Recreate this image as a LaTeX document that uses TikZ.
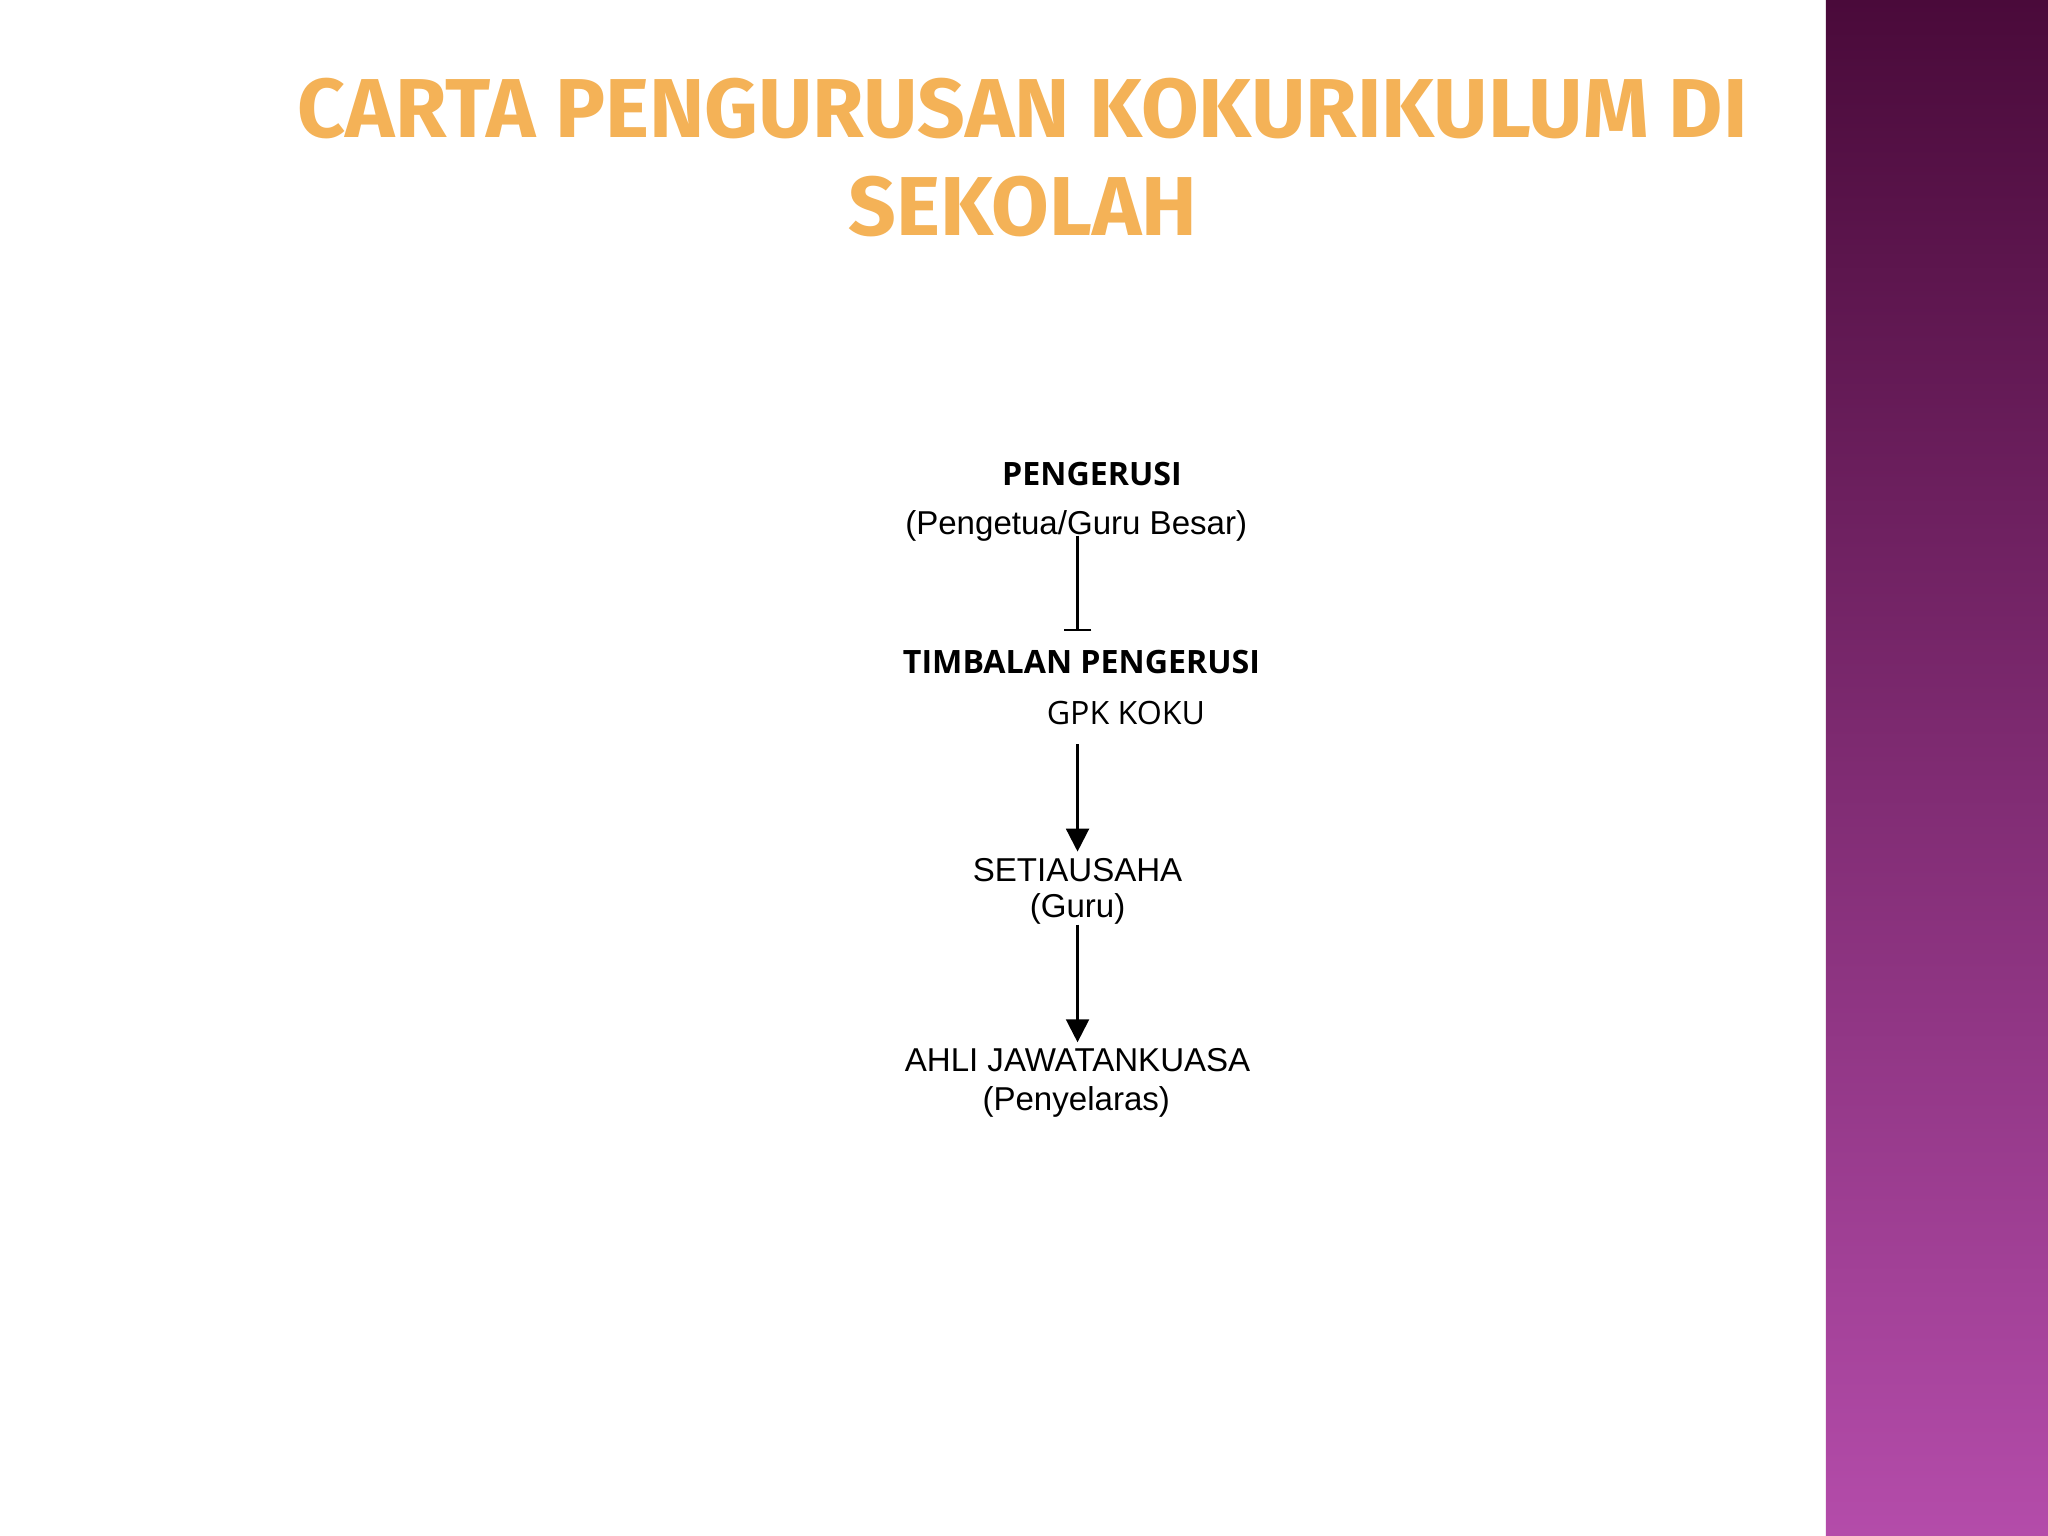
\documentclass[tikz,border=0pt]{standalone}
\usepackage{fontspec}
\setmainfont{Liberation Sans}
\newfontfamily\titlefont{Fira Sans}
\newfontfamily\boldfont{Open Sans}
\usetikzlibrary{arrows.meta}
\definecolor{pdark}{HTML}{4A0A3A}
\definecolor{plight}{HTML}{B44CAA}
\definecolor{torange}{HTML}{F4B257}
\tikzset{
  lbl/.style={inner sep=0pt, font=\fontsize{7.2}{8}\selectfont},
  blbl/.style={inner sep=0pt, font=\boldfont\fontsize{7}{8}\selectfont\bfseries},
  olbl/.style={inner sep=0pt, font=\boldfont\fontsize{7}{8}\selectfont},
  ttl/.style={inner sep=0pt, font=\titlefont\fontsize{18.2}{22}\selectfont\bfseries, text=torange},
  conn/.style={line width=0.5pt},
  arr/.style={conn, -{Triangle[length=5pt,width=5pt]}}
}
\begin{document}
\begin{tikzpicture}[x=0.01cm,y=-0.01cm]
\useasboundingbox (0,0) rectangle (1568,1176);
\fill[white] (0,0) rectangle (1568,1176);
\shade[top color=pdark, bottom color=plight] (1398,0) rectangle (1568,1176);
\node[ttl] (t1) at (783,83) {CARTA PENGURUSAN KOKURIKULUM DI};
\node[ttl] (t2) at (783,158) {SEKOLAH};
\node[blbl] (p1) at (836,363) {PENGERUSI};
\node[lbl] (p2) at (824,403) {(Pengetua/Guru Besar)};
\node[blbl] (tp1) at (828,507) {TIMBALAN PENGERUSI};
\node[olbl] (tp2) at (862,546) {GPK KOKU};
\node[lbl] (s1) at (825,666) {SETIAUSAHA};
\node[lbl] (s2) at (825,696) {(Guru)};
\node[lbl] (a1) at (825,812) {AHLI JAWATANKUASA};
\node[lbl] (a2) at (824,844) {(Penyelaras)};
\coordinate (c1) at (825,410);
\coordinate (c2) at (825,483);
\coordinate (c3) at (825,570);
\coordinate (c4) at (825,652);
\coordinate (c5) at (825,708);
\coordinate (c6) at (825,798);
\draw[conn, -{Bar[width=6pt]}] (c1) -- (c2);
\draw[arr] (c3) -- (c4);
\draw[arr] (c5) -- (c6);
\end{tikzpicture}
\end{document}
